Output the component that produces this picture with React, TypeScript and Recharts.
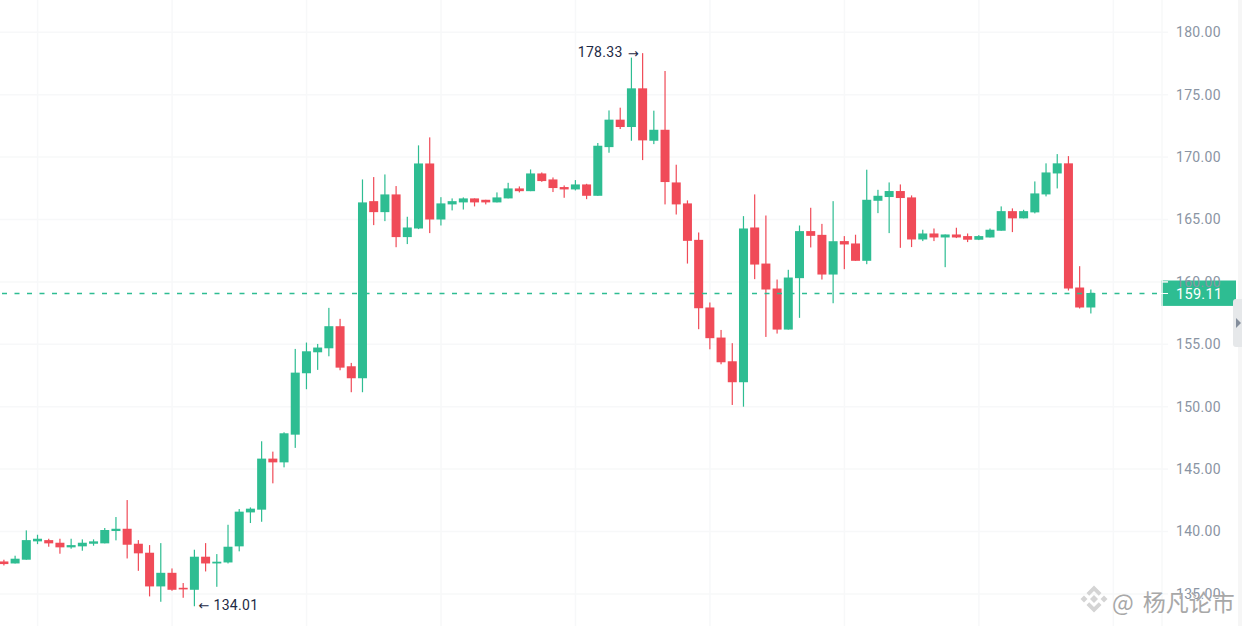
import React from 'react';
import { ComposedChart, Bar, XAxis, YAxis, CartesianGrid, ReferenceLine, ReferenceDot } from 'recharts';

const opens = [137.60,137.44,137.74,139.21,139.31,139.10,138.73,138.81,139.02,139.05,140.04,140.22,139.02,138.30,135.60,136.69,135.49,135.33,137.98,137.44,137.52,138.81,141.53,141.75,145.84,145.54,147.76,152.68,154.36,154.68,156.45,153.24,152.28,166.47,165.59,167.01,163.59,164.28,169.49,165.00,166.21,166.37,166.69,166.58,166.37,166.69,167.49,167.27,168.69,168.21,167.60,167.41,167.81,166.90,170.80,173.00,172.41,175.51,171.31,172.19,167.97,166.29,163.37,157.95,155.54,153.64,151.96,164.36,161.47,159.47,156.18,160.30,164.07,163.77,160.59,163.27,163.08,161.69,166.50,166.80,167.28,166.77,163.40,163.88,163.56,163.80,163.67,163.38,163.56,164.10,165.67,165.09,165.57,167.01,168.69,169.50,159.55,157.95];
const closes = [137.39,137.82,139.31,139.42,139.05,138.73,138.91,139.10,139.21,140.12,140.22,138.94,138.25,135.60,136.69,135.33,135.36,137.98,137.44,137.58,138.78,141.59,141.83,145.84,145.54,147.87,152.73,154.44,154.74,156.45,153.13,152.28,166.37,165.59,167.01,163.59,164.36,169.49,165.00,166.29,166.47,166.69,166.37,166.37,166.77,167.49,167.27,168.69,168.08,167.52,167.41,167.81,166.90,170.91,173.00,172.41,175.51,171.34,172.19,168.00,166.21,163.29,157.89,155.49,153.56,151.96,164.28,161.39,159.39,156.18,160.35,164.07,163.69,160.59,163.26,163.00,161.69,166.58,166.90,167.28,166.72,163.40,163.88,163.56,163.80,163.56,163.38,163.67,164.18,165.67,165.09,165.67,167.09,168.77,169.50,159.47,157.95,159.11];
const highs = [137.74,138.06,140.09,139.74,139.42,139.42,139.42,139.37,139.37,140.28,141.16,142.52,139.31,138.91,139.07,137.04,135.87,138.54,139.07,138.19,140.54,141.80,141.93,147.23,146.40,147.95,154.63,155.14,155.03,157.92,157.04,153.51,168.21,168.40,168.61,167.68,165.22,170.94,171.58,166.79,166.69,166.77,166.69,166.58,167.17,167.94,167.65,169.01,168.77,168.37,167.73,168.16,167.86,171.13,173.74,173.96,177.97,178.33,173.72,176.90,169.39,166.53,163.96,158.35,156.15,155.09,165.27,167.01,165.32,160.19,160.97,164.52,165.94,164.65,166.47,163.67,163.78,168.99,167.38,167.97,167.81,166.93,164.18,164.28,163.80,164.34,163.88,163.75,164.28,166.05,165.89,165.78,168.05,169.50,170.24,170.08,161.26,159.39];
const lows = [137.28,137.44,137.74,138.99,138.78,138.22,138.62,138.46,138.86,139.05,139.29,137.84,136.85,134.80,134.37,135.25,134.69,134.01,136.80,135.57,137.44,138.41,140.68,140.78,143.86,145.14,146.70,151.40,152.95,154.04,152.92,151.16,151.16,164.55,164.87,162.78,163.03,164.23,163.91,164.52,165.73,165.80,166.05,166.21,166.37,166.69,167.17,167.27,168.02,167.20,166.74,167.33,166.63,166.90,170.35,172.25,171.31,169.76,171.04,166.21,165.40,161.47,156.21,154.60,153.40,150.14,150.00,160.22,155.59,155.86,156.18,157.12,162.76,160.19,158.29,161.02,161.69,161.42,165.51,163.91,162.73,162.79,163.27,163.27,161.18,163.51,163.19,163.35,163.56,164.10,163.99,165.09,165.49,166.85,167.49,159.31,157.87,157.47];

const priceTicks = [135, 140, 145, 150, 155, 160, 165, 170, 175, 180];
const timeTicks = [3, 15, 27, 39, 51, 63, 75, 87, 99];
const xDomain = [-0.357, 103.34];
const lastPrice = 159.11;
const maxPrice = 178.33;
const minPrice = 134.01;
const maxIndex = 57;
const minIndex = 17;
const watermark = '杨凡论市';

const GREEN = '#2ebd92';
const RED = '#f04b58';
const GRID = '#f7f8f9';
const FONT = 'Roboto, sans-serif';
const ARROW_FONT = '"DejaVu Sans", sans-serif';

const data = opens.map((o, i) => ({ i, o, c: closes[i], h: highs[i], l: lows[i], range: [lows[i], highs[i]] }));

const Candle = (props: any) => {
  const { x, y, width, height, payload } = props;
  const { o, c, h, l } = payload;
  const k = height / (h - l);
  const top = y + (h - Math.max(o, c)) * k;
  const bot = y + (h - Math.min(o, c)) * k;
  const col = c >= o ? GREEN : RED;
  const cx = x + width / 2;
  return (
    <g>
      <rect x={cx - 0.6} y={y} width={1.2} height={height} fill={col} />
      <rect x={x} y={top} width={width} height={Math.max(bot - top, 1)} fill={col} />
    </g>
  );
};

const MaxMark = (props: any) => (
  <g fill="#1e2a45">
    <text x={props.cx - 65} y={props.cy + 4} fontFamily={FONT} fontSize={14} letterSpacing={0.3}>{maxPrice.toFixed(2)}</text>
    <text x={props.cx - 15} y={props.cy + 4.5} fontFamily={ARROW_FONT} fontSize={13}>→</text>
  </g>
);
const MinMark = (props: any) => (
  <g fill="#1e2a45">
    <text x={props.cx + 4} y={props.cy + 4} fontFamily={ARROW_FONT} fontSize={13}>←</text>
    <text x={props.cx + 19} y={props.cy + 4} fontFamily={FONT} fontSize={14} letterSpacing={0.3}>{minPrice.toFixed(2)}</text>
  </g>
);

const PriceTag = (props: any) => {
  const { x, y, width } = props.viewBox;
  const left = x + width - 1;
  return (
    <g>
      <rect x={left} y={y - 13} width={75} height={25.4} fill={GREEN} />
      <line x1={left} x2={left + 7} y1={y} y2={y} stroke="#ffffff" strokeWidth={1} />
      <text x={left + 15} y={y + 5} fontFamily={FONT} fontSize={14.5} letterSpacing={0.3} fill="#ffffff">{lastPrice.toFixed(2)}</text>
    </g>
  );
};

const verticalGrid = ({ offset }: any) =>
  timeTicks.map((t) => offset.left + ((t - xDomain[0]) / (xDomain[1] - xDomain[0])) * offset.width);

export default function App() {
  return (
    <div style={{ position: 'absolute', left: 0, top: 0, width: 1242, height: 626, overflow: 'hidden', background: '#fff' }}>
      <ComposedChart width={1242} height={626} data={data} margin={{ top: 0, right: 0, bottom: 0, left: 0 }}>
        <CartesianGrid stroke={GRID} strokeWidth={1.5} syncWithTicks verticalCoordinatesGenerator={verticalGrid} />
        <XAxis dataKey="i" type="number" domain={xDomain} allowDataOverflow ticks={timeTicks} tick={false} tickLine={false} axisLine={false} height={0} />
        <YAxis
          orientation="right"
          width={80}
          domain={[132.428, 182.588]}
          allowDataOverflow
          ticks={priceTicks}
          tickFormatter={(v: number) => v.toFixed(2)}
          tick={{ fill: '#8a94a3', fontFamily: FONT, fontSize: 14, letterSpacing: 0.3, textAnchor: 'start' }}
          tickSize={6}
          tickMargin={8}
          tickLine={{ stroke: GRID, strokeWidth: 1.5 }}
          axisLine={{ stroke: GRID, strokeWidth: 1.5 }}
          interval={0}
        />
        <Bar dataKey="range" barSize={9} shape={<Candle />} isAnimationActive={false} />
        <ReferenceDot x={maxIndex} y={maxPrice} r={0} shape={<MaxMark />} />
        <ReferenceDot x={minIndex} y={minPrice} r={0} shape={<MinMark />} />
        <ReferenceLine y={lastPrice - 0.04} stroke={GREEN} strokeWidth={1.4} strokeDasharray="5 7.5" strokeDashoffset={-5} label={<PriceTag />} />
      </ComposedChart>
      <div style={{ position: 'absolute', left: 1238, top: 0, width: 4, height: 626, background: '#f6f6f6' }} />
      <div style={{ position: 'absolute', left: 1233, top: 299, width: 9, height: 47.5, background: '#e6e8ea', borderRadius: '3px 0 0 3px' }}>
        <div style={{ position: 'absolute', left: 3, top: 19, width: 0, height: 0, borderLeft: '5px solid #848e9c', borderTop: '5px solid transparent', borderBottom: '5px solid transparent' }} />
      </div>
      <svg width={30} height={30} style={{ position: 'absolute', left: 1079, top: 584 }} viewBox="0 0 30 30">
        <g fill="#d4d4d4">
          <polygon points="15,1.5 22.5,9 19.8,11.7 15,7 10.2,11.7 7.5,9" />
          <polygon points="15,28.5 22.5,21 19.8,18.3 15,23 10.2,18.3 7.5,21" />
          <polygon points="15,11 19,15 15,19 11,15" />
          <polygon points="5,11.5 8.5,15 5,18.5 1.5,15" />
          <polygon points="25,11.5 28.5,15 25,18.5 21.5,15" />
        </g>
      </svg>
      <div style={{ position: 'absolute', left: 1112, top: 586, height: 30, lineHeight: '30px', whiteSpace: 'nowrap', fontFamily: '"Noto Sans CJK SC", sans-serif', fontSize: 23, color: '#a8a8a8', textShadow: '0 1px 1px rgba(255,255,255,0.9)' }}>
        <span style={{ marginRight: 9 }}>@</span>{watermark}
      </div>
    </div>
  );
}
